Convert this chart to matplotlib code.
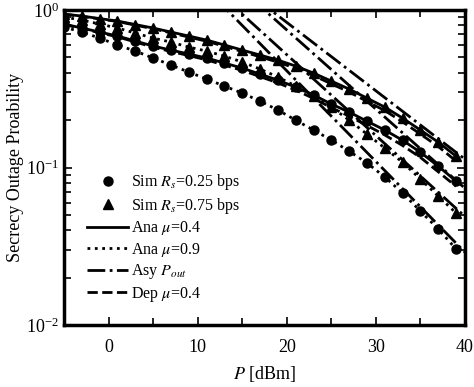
import matplotlib
matplotlib.use("Agg")
import matplotlib.pyplot as plt
from matplotlib.lines import Line2D
from matplotlib.ticker import MultipleLocator, LogLocator, NullFormatter

plt.rcParams['font.family'] = ['Liberation Serif', 'DejaVu Serif']
plt.rcParams['mathtext.fontset'] = 'stix'

# transmit power (dBm), simulation points every 2 dB
P_dbm = [-5, -3, -1, 1, 3, 5, 7, 9, 11, 13, 15, 17, 19, 21, 23, 25, 27, 29, 31, 33, 35, 37, 39]

# Ana mu=0.4, Rs=0.75 bps (triangles)
ana04_rs075 = [0.943, 0.916, 0.883, 0.852, 0.809, 0.769, 0.725, 0.684, 0.645, 0.600, 0.557, 0.518,
               0.481, 0.441, 0.398, 0.354, 0.315, 0.276, 0.242, 0.206, 0.173, 0.145, 0.118]
# Ana mu=0.4, Rs=0.25 bps (circles)
ana04_rs025 = [0.815, 0.769, 0.725, 0.684, 0.636, 0.591, 0.557, 0.526, 0.496, 0.461, 0.428, 0.392,
               0.359, 0.324, 0.289, 0.253, 0.225, 0.197, 0.173, 0.149, 0.125, 0.102, 0.082]
# Ana mu=0.9, Rs=0.75 bps (triangles)
ana09_rs075 = [0.903, 0.864, 0.815, 0.769, 0.714, 0.664, 0.626, 0.582, 0.549, 0.510, 0.468, 0.422,
               0.376, 0.329, 0.284, 0.242, 0.200, 0.163, 0.133, 0.108, 0.0845, 0.0659, 0.0514]
# Ana mu=0.9, Rs=0.25 bps (circles)
ana09_rs025 = [0.780, 0.725, 0.664, 0.600, 0.549, 0.496, 0.448, 0.404, 0.365, 0.329, 0.297, 0.264,
               0.232, 0.200, 0.173, 0.1495, 0.127, 0.107, 0.0871, 0.0689, 0.0529, 0.0407, 0.0304]
# Dep mu=0.4 (both rates)
dep04_rs075 = [0.940, 0.912, 0.878, 0.846, 0.802, 0.761, 0.716, 0.674, 0.634, 0.589, 0.545, 0.505,
               0.467, 0.427, 0.384, 0.340, 0.302, 0.263, 0.230, 0.195, 0.163, 0.136, 0.110]
dep04_rs025 = [0.810, 0.763, 0.718, 0.676, 0.627, 0.581, 0.546, 0.514, 0.483, 0.447, 0.414, 0.378,
               0.345, 0.310, 0.275, 0.240, 0.212, 0.185, 0.161, 0.138, 0.116, 0.094, 0.076]

# asymptotic outage, straight lines in log scale (end points)
asy_P = [10, 40]
asy04_rs075 = [2.27, 0.113]
asy04_rs025 = [2.38, 0.0738]
asy09_rs075 = [1.70, 0.0489]
asy09_rs025 = [1.55, 0.029]

fig = plt.figure(figsize=(4.74, 3.87), dpi=100)
ax = fig.add_axes([0.135, 0.160, 0.846, 0.814])

lw = 2.0
ms = 6.5
for y in [asy04_rs075, asy04_rs025, asy09_rs075, asy09_rs025]:
    ax.plot(asy_P, y, color='black', linestyle='-.', linewidth=lw)
ax.plot(P_dbm, dep04_rs075, color='black', linestyle='--', linewidth=lw)
ax.plot(P_dbm, dep04_rs025, color='black', linestyle='--', linewidth=lw)
ax.plot(P_dbm, ana04_rs075, color='black', linestyle='-', linewidth=lw,
        marker='^', markersize=ms)
ax.plot(P_dbm, ana04_rs025, color='black', linestyle='-', linewidth=lw,
        marker='o', markersize=ms)
ax.plot(P_dbm, ana09_rs075, color='black', linestyle=':', linewidth=lw,
        marker='^', markersize=ms)
ax.plot(P_dbm, ana09_rs025, color='black', linestyle=':', linewidth=lw,
        marker='o', markersize=ms)

ax.set_yscale('log')
ax.set_xlim(-5, 40)
ax.set_ylim(1e-2, 1)
ax.xaxis.set_major_locator(MultipleLocator(10))
ax.xaxis.set_minor_locator(MultipleLocator(5))
ax.yaxis.set_major_locator(LogLocator(base=10))
ax.yaxis.set_minor_locator(LogLocator(base=10, subs=range(2, 10)))
ax.yaxis.set_minor_formatter(NullFormatter())
ax.tick_params(which='both', direction='in', top=True, right=True, width=1.2,
               labelsize=13, colors='black')
ax.tick_params(which='major', length=6)
ax.tick_params(which='minor', length=5)
ax.tick_params(axis='x', which='major', pad=10)
for sp in ax.spines.values():
    sp.set_linewidth(2.5)

ax.set_xlabel('$P$ [dBm]', fontsize=13, labelpad=6)
ax.set_ylabel('Secrecy Outage Proability', fontsize=13, labelpad=2)

handles = [
    Line2D([], [], color='black', linestyle='none', marker='o', markersize=ms),
    Line2D([], [], color='black', linestyle='none', marker='^', markersize=ms),
    Line2D([], [], color='black', linestyle='-', linewidth=lw),
    Line2D([], [], color='black', linestyle=':', linewidth=lw),
    Line2D([], [], color='black', linestyle='-.', linewidth=lw),
    Line2D([], [], color='black', linestyle='--', linewidth=lw),
]
labels = ['Sim $R_s$=0.25 bps', 'Sim $R_s$=0.75 bps', 'Ana $\\mu$=0.4',
          'Ana $\\mu$=0.9', 'Asy $P_{out}$', 'Dep $\\mu$=0.4']
ax.legend(handles, labels, loc='lower left', bbox_to_anchor=(0.041, 0.047), frameon=False,
          fontsize=11.5, handlelength=2.6, handletextpad=0.15, labelspacing=0.22,
          borderaxespad=0.0)

fig.savefig('out.png', dpi=100)
